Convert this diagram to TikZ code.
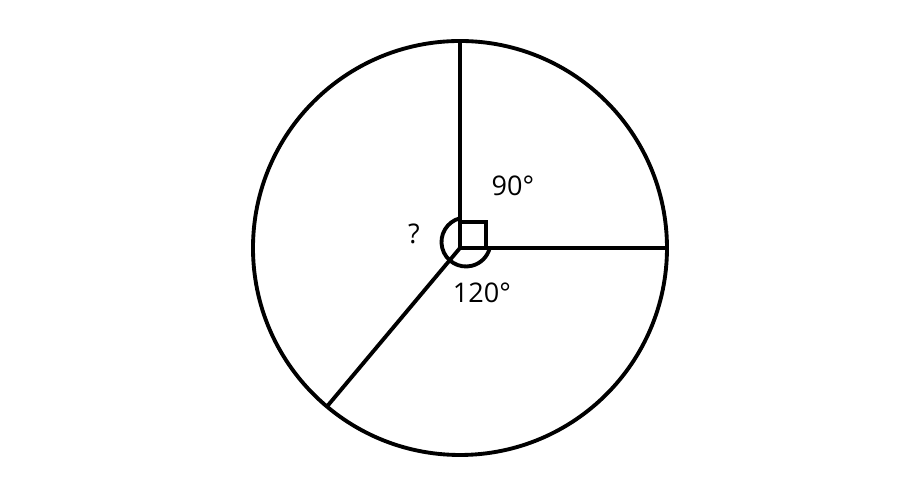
\documentclass[tikz,border=0pt]{standalone}
\usepackage{fontspec}
\setmainfont{Open Sans}
\usetikzlibrary{angles,quotes}

\begin{document}
\begin{tikzpicture}[x=0.02cm,y=0.02cm]
    \useasboundingbox (-460,-254) rectangle (457,248);
    \begin{scope}[line width=2.2pt,font=\fontsize{15.4}{18}\selectfont]

    \coordinate (O) at (0,0);
    \coordinate (top) at (90:207);
    \coordinate (right) at (0:207);
    \coordinate (lowleft) at (230:207);
    \coordinate (arccentre) at (6,6);

    \draw (O) circle [radius=207];
    \draw (O) -- (top);
    \draw (O) -- (right);
    \draw (O) -- (lowleft);

    \draw (O) rectangle ++(26,26);
    \draw (arccentre) ++(104.2:24.5) arc [start angle=104.2, end angle=345.8, radius=24.5];

    \node (ninety) at (53,62) {90°};
    \node (onetwenty) at (22,-45) {120°};
    \node (unknown) at (-46,14) {?};
\end{scope}
\end{tikzpicture}
\end{document}
